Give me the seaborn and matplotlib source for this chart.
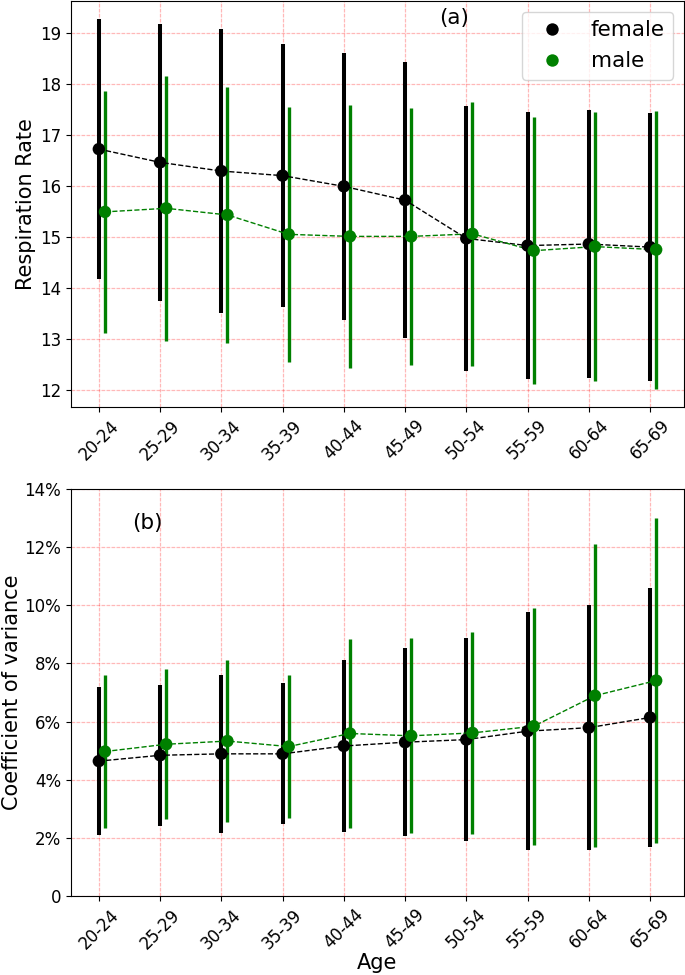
import numpy as np
import pandas as pd
import matplotlib
matplotlib.use("Agg")
import matplotlib.pyplot as plt
from matplotlib.ticker import FuncFormatter
import seaborn as sns

### data
ages = ["20-24", "25-29", "30-34", "35-39", "40-44", "45-49", "50-54", "55-59", "60-64", "65-69"]

female_rr = [16.72, 16.46, 16.29, 16.20, 15.99, 15.72, 14.97, 14.83, 14.86, 14.80]
female_rr_sd = [2.54, 2.72, 2.79, 2.58, 2.62, 2.70, 2.59, 2.62, 2.62, 2.63]
male_rr = [15.49, 15.56, 15.43, 15.05, 15.01, 15.01, 15.06, 14.73, 14.81, 14.75]
male_rr_sd = [2.37, 2.60, 2.51, 2.50, 2.57, 2.52, 2.58, 2.62, 2.63, 2.72]

female_cv = [0.0464, 0.0484, 0.0489, 0.0489, 0.0516, 0.0529, 0.0538, 0.0567, 0.0579, 0.0614]
female_cv_sd = [0.0254, 0.0243, 0.0272, 0.0242, 0.0296, 0.0324, 0.0348, 0.0409, 0.0421, 0.0446]
male_cv = [0.0497, 0.0522, 0.0533, 0.0514, 0.0559, 0.0551, 0.0561, 0.0584, 0.0689, 0.0741]
male_cv_sd = [0.0262, 0.0258, 0.0278, 0.0246, 0.0325, 0.0335, 0.0346, 0.0407, 0.0520, 0.0560]

rr_ticks = [12, 13, 14, 15, 16, 17, 18, 19]
cv_ticks = [0, 0.02, 0.04, 0.06, 0.08, 0.10, 0.12, 0.14]

colors = {"female": "black", "male": "green"}
bar_width = {"female": 2.9, "male": 2.4}
offset = {"female": 0.0, "male": 0.1}

# red grid everywhere
plt.rcParams["grid.color"] = "#ff0000"
plt.rcParams["grid.alpha"] = 0.28
plt.rcParams["grid.linestyle"] = (0, (3, 1))
plt.rcParams["grid.linewidth"] = 0.9


### function to draw one panel
def draw_panel(ax, vals, sds, yticks):
    frames = []
    for sex in ["female", "male"]:
        x = np.arange(len(ages)) + offset[sex]
        frames.append(pd.DataFrame({"x": x, "y": vals[sex], "sd": sds[sex], "sex": sex}))
    df = pd.concat(frames, ignore_index=True)

    for sex in ["female", "male"]:
        sub = df[df["sex"] == sex]
        ax.errorbar(sub["x"], sub["y"], yerr=sub["sd"], fmt="none",
                    ecolor=colors[sex], elinewidth=bar_width[sex], capsize=0, zorder=2)
        sns.lineplot(data=sub, x="x", y="y", color=colors[sex], linestyle="--",
                     linewidth=1, ax=ax, legend=False, zorder=3)

    sns.scatterplot(data=df, x="x", y="y", hue="sex", palette=colors, s=80,
                    edgecolor="none", ax=ax, zorder=4)

    ax.set_xticks(np.arange(len(ages)))
    ax.set_xticklabels(ages, rotation=45, fontsize=12)
    ax.set_yticks(yticks)
    ax.tick_params(axis="y", labelsize=12)
    ax.grid(True)
    ax.set_axisbelow(True)
    ax.set_xlabel("")
    return ax


fig = plt.figure(figsize=(6.85, 9.75), dpi=100)
ax1 = fig.add_axes([0.1036, 0.5826, 0.895, 0.4164])
ax2 = fig.add_axes([0.1036, 0.081, 0.895, 0.4175])

# (a) respiration rate
draw_panel(ax1, {"female": female_rr, "male": male_rr},
           {"female": female_rr_sd, "male": male_rr_sd}, rr_ticks)
ax1.set_ylabel("Respiration Rate", fontsize=15, labelpad=3)
handles, labels = ax1.get_legend_handles_labels()
ax1.legend(handles, labels, loc="upper right", fontsize=15.5, title=None)
ax1.text(0.625, 0.958, "(a)", transform=ax1.transAxes, fontsize=15.5,
         ha="center", va="center")

# (b) coefficient of variance
draw_panel(ax2, {"female": female_cv, "male": male_cv},
           {"female": female_cv_sd, "male": male_cv_sd}, cv_ticks)
ax2.set_ylim(0, 0.14)
ax2.yaxis.set_major_formatter(FuncFormatter(lambda v, p: "0" if abs(v) < 1e-9 else f"{v*100:.0f}%"))
ax2.set_ylabel("Coefficient of variance", fontsize=15, labelpad=2)
ax2.set_xlabel("Age", fontsize=15, labelpad=0)
ax2.get_legend().remove()
ax2.text(0.124, 0.916, "(b)", transform=ax2.transAxes, fontsize=15.5,
         ha="center", va="center")

fig.savefig("out.png", dpi=100)
